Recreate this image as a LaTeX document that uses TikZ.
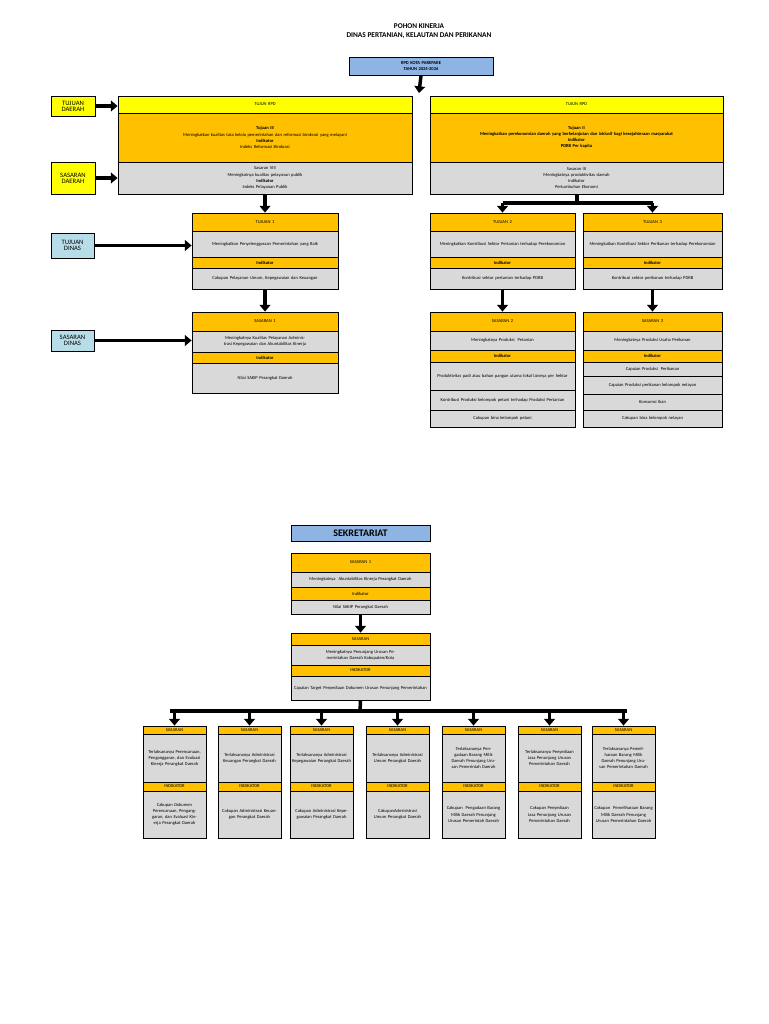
\documentclass[tikz,border=0pt]{standalone}
\usepackage{fontspec}
\setmainfont{Carlito}
\usetikzlibrary{arrows.meta}
\definecolor{yel}{HTML}{FFFF00}
\definecolor{org}{HTML}{FFC000}
\definecolor{gry}{HTML}{D9D9D9}
\definecolor{blu}{HTML}{8EB4E3}
\definecolor{lbl}{HTML}{B7DEE8}
\tikzset{cell/.style={draw=black,line width=0.6pt,inner xsep=1.5pt,inner ysep=0pt,align=center,font=\fontsize{3.4}{4.6}\selectfont},
 bigarrow/.style={line width=2.6pt,-{Triangle[length=5pt,width=8pt]}},
 bar/.style={line width=2.6pt}}
\newcommand\bx[7]{\pgfmathsetmacro\bw{(#4-#2)*0.75}\pgfmathsetmacro\bh{(#5-#3)*0.75}\pgfmathsetmacro\tw{\bw-3}%
\node[cell,fill=#6,minimum width=\bw pt,minimum height=\bh pt,text width=\tw pt] (#1) at ({(#2+#4)/2},{(#3+#5)/2}) {#7};}
\begin{document}
\begin{tikzpicture}[x=0.75pt,y=-0.75pt]
\useasboundingbox (0,0) rectangle (768,1024);
\node[font=\fontsize{5.5}{7}\selectfont\bfseries,align=center] (title) at (419,31) {POHON KINERJA\\DINAS PERTANIAN, KELAUTAN DAN PERIKANAN};
\bx{rpd}{349}{57}{493}{75}{blu}{\textbf{RPD KOTA PAREPARE}\\\textbf{TAHUN 2024-2026}}
\coordinate (rpdend) at (419,93);
\draw[bigarrow] (rpd.south) -- (rpdend);
% left big
\bx{lh}{118}{96}{412}{113}{yel}{TUJUN RPD}
\bx{lo}{118}{113}{412}{162}{org}{\textbf{Tujuan III}\\Meningkatkan kualitas tata kelola pemerintahan dan reformasi birokrasi yang melayani\\\textbf{Indikator}\\Indeks Reformasi Birokrasi}
\bx{lg}{118}{162}{412}{194}{gry}{Sasaran VIII\\Meningkatnya kualitas pelayanan publik\\\textbf{Indikator}\\Indeks Pelayanan Publik}
% right big
\bx{rh}{430}{96}{723}{113}{yel}{TUJUN RPD}
\bx{ro}{430}{113}{723}{162}{org}{\textbf{Tujuan II}\\\textbf{Meningkatkan perekonomian daerah yang berkelanjutan dan inklusif bagi kesejahteraan masyarakat}\\\textbf{Indikator}\\\textbf{PDRB Per kapita}}
\bx{rg}{430}{162}{723}{194}{gry}{Sasaran III\\Meningkatnya produktivitas daerah\\Indikator\\Pertumbuhan Ekonomi}
% side labels
\bx{td}{51}{96}{95}{116}{yel}{\fontsize{5}{6}\selectfont TUJUAN\\DAERAH}
\bx{sd}{51}{162}{95}{194}{yel}{\fontsize{5}{6}\selectfont SASARAN\\DAERAH}
\bx{tdn}{51}{233}{94}{258}{lbl}{\fontsize{5}{6}\selectfont TUJUAN\\DINAS}
\bx{sdn}{51}{330}{94}{351}{lbl}{\fontsize{5}{6}\selectfont SASARAN\\DINAS}
\draw[bigarrow] (td.east) -- (td.east -| lh.west);
\draw[bigarrow] (sd.east) -- (sd.east -| lg.west);
% tujuan 1
\bx{t1h}{192}{213}{338}{231}{org}{TUJUAN 1}
\bx{t1a}{192}{231}{338}{257}{gry}{Meningkatkan Penyelenggaraan Pemerintahan yang Baik}
\bx{t1i}{192}{257}{338}{268}{org}{\textbf{Indikator}}
\bx{t1b}{192}{268}{338}{289}{gry}{Cakupan Pelayanan Umum, Kepegawaian dan Keuangan}
\bx{s1h}{192}{312}{338}{331}{org}{SASARAN 1}
\bx{s1a}{192}{331}{338}{352}{gry}{Meningkatnya Kualitas Pelayanan Administrasi Kepegawaian dan Akuntabilitas Kinerja}
\bx{s1i}{192}{352}{338}{363}{org}{\textbf{Indikator}}
\bx{s1b}{192}{363}{338}{393}{gry}{Nilai SAKIP Perangkat Daerah}
\draw[bigarrow] (lg.south -| t1h.north) -- (t1h.north);
\draw[bigarrow] (t1b.south) -- (s1h.north);
\draw[bigarrow] (tdn.east) -- (tdn.east -| t1a.west);
\draw[bigarrow] (sdn.east) -- (sdn.east -| s1a.west);
% tujuan 2/3
\bx{t2h}{430}{213}{575}{231}{org}{TUJUAN 2}
\bx{t2a}{430}{231}{575}{257}{gry}{Meningkatkan Kontribusi Sektor Pertanian terhadap Perekonomian}
\bx{t2i}{430}{257}{575}{268}{org}{\textbf{Indikator}}
\bx{t2b}{430}{268}{575}{289}{gry}{Kontribusi sektor pertanian terhadap PDRB}
\bx{t3h}{583}{213}{722}{231}{org}{TUJUAN 3}
\bx{t3a}{583}{231}{722}{257}{gry}{Meningkatkan Kontribusi Sektor Perikanan terhadap Perekonomian}
\bx{t3i}{583}{257}{722}{268}{org}{\textbf{Indikator}}
\bx{t3b}{583}{268}{722}{289}{gry}{Kontribusi sektor perikanan terhadap PDRB}
\coordinate (rj) at (577,203);
\draw[bar] (rg.south -| rj) -- (rj);
\draw[bar] (t2h.north |- rj) -- (t3h.north |- rj);
\draw[bigarrow] (t2h.north |- rj) -- (t2h.north);
\draw[bigarrow] (t3h.north |- rj) -- (t3h.north);
\bx{s2h}{430}{312}{575}{331}{org}{SASARAN 2}
\bx{s2a}{430}{331}{575}{350}{gry}{Meningkatnya Produksi~ Petanian}
\bx{s2i}{430}{350}{575}{362}{org}{\textbf{Indikator}}
\bx{s2b}{430}{362}{575}{390}{gry}{Produktivitas padi atau bahan pangan utama lokal lainnya per hektar}
\bx{s2c}{430}{390}{575}{410}{gry}{Kontribusi Produksi kelompok petani terhadap Produksi Pertanian}
\bx{s2d}{430}{410}{575}{427}{gry}{Cakupan bina kelompok petani}
\bx{s3h}{583}{312}{722}{331}{org}{SASARAN 3}
\bx{s3a}{583}{331}{722}{350}{gry}{Meningkatnya Produksi Usaha Perikanan}
\bx{s3i}{583}{350}{722}{362}{org}{\textbf{Indikator}}
\bx{s3b}{583}{362}{722}{376}{gry}{Capaian Produksi~ Perikanan}
\bx{s3c}{583}{376}{722}{394}{gry}{Capaian Produksi perikanan kelompok nelayan}
\bx{s3d}{583}{394}{722}{410}{gry}{Konsumsi Ikan}
\bx{s3e}{583}{410}{722}{427}{gry}{Cakupan bina kelompok nelayan}
\draw[bigarrow] (t2b.south) -- (s2h.north);
\draw[bigarrow] (t3b.south) -- (s3h.north);
% sekretariat
\bx{sek}{291}{525}{430}{541}{blu}{\fontsize{7.5}{9}\selectfont\bfseries SEKRETARIAT}
\bx{ksh}{291}{553}{430}{572}{org}{SASARAN 1}
\bx{ksa}{291}{572}{430}{587}{gry}{Meningkatnya~ Akuntabilitas Kinerja Perangkat Daerah}
\bx{ksi}{291}{587}{430}{600}{org}{Indikator}
\bx{ksb}{291}{600}{430}{614}{gry}{Nilai SAKIP Perangkat Daerah}
\bx{kph}{291}{633}{430}{645}{org}{SASARAN}
\bx{kpa}{291}{645}{430}{665}{gry}{Meningkatnya Penunjang Urusan Pemerintahan Daerah Kabupaten/Kota}
\bx{kpi}{291}{665}{430}{676}{org}{INDIKATOR}
\bx{kpb}{291}{676}{430}{700}{gry}{Capaian Target Penyediaan Dokumen Urusan Penunjang Pemerintahan}
\draw[bigarrow] (ksb.south) -- (kph.north);
\coordinate (bj) at (360,711);
\draw[bar] (kpb.south) -- (bj);
\draw[bar] (170,711) -- (627,711);
\foreach \n/\a/\b/\s/\t in {
 c1/143/206/{Terlaksananya Perencanaan, Penganggaran, dan Evaluasi Kinerja Perangkat Daerah}/{Cakupan Dokumen Perencanaan, Penganggaran, dan Evaluasi Kinerja Perangkat Daerah},
 c2/218/281/{Terlaksananya Administrasi Keuangan Perangkat Daerah}/{Cakupan Administrasi Keuangan Perangkat Daerah},
 c3/290/353/{Terlaksananya Administrasi Kepegawaian Perangkat Daerah}/{Cakupan Administrasi Kepegawaian Perangkat Daerah},
 c4/366/429/{Terlaksananya Administrasi Umum Perangkat Daerah}/{CakupanAdministrasi Umum Perangkat Daerah},
 c5/442/505/{Terlaksananya Pengadaan Barang Milik Daerah Penunjang Urusan Pemerintah Daerah}/{Cakupan~ Pengadaan Barang Milik Daerah Penunjang Urusan Pemerintah Daerah},
 c6/518/581/{Terlaksananya Penyediaan Jasa Penunjang Urusan Pemerintahan Daerah}/{Cakupan Penyediaan Jasa Penunjang Urusan Pemerintahan Daerah},
 c7/592/655/{Terlaksananya Pemeliharaan Barang Milik Daerah Penunjang Urusan Pemerintahan Daerah}/{Cakupan~ Pemeliharaan Barang Milik Daerah Penunjang Urusan Pemerintahan Daerah}}{
 \bx{\n h}{\a}{726}{\b}{734}{org}{SASARAN}
 \bx{\n a}{\a}{734}{\b}{782}{gry}{\s}
 \bx{\n i}{\a}{782}{\b}{791}{org}{INDIKATOR}
 \bx{\n b}{\a}{791}{\b}{838}{gry}{\t}
 \draw[bigarrow] (\n h.north |- bj) -- (\n h.north);
}
\end{tikzpicture}
\end{document}
